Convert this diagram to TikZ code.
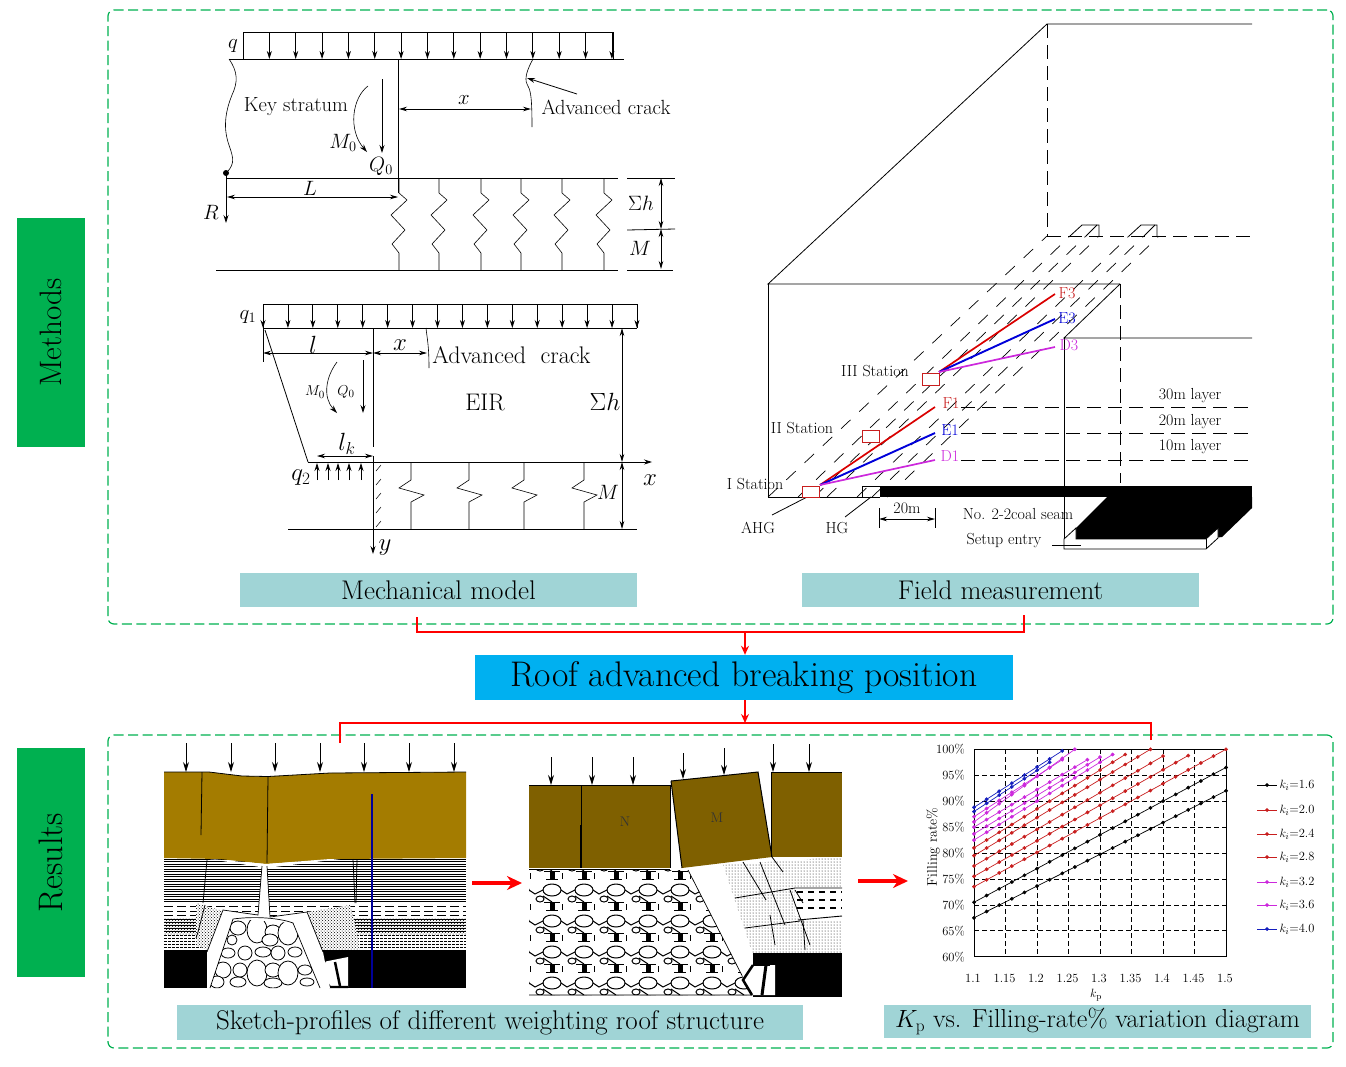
\documentclass[tikz,border=0pt]{standalone}
\usetikzlibrary{arrows.meta,patterns}
\definecolor{framegreen}{RGB}{0,176,80}
\definecolor{boxteal}{RGB}{160,212,214}
\definecolor{boxblue}{RGB}{0,176,240}
\definecolor{brownA}{RGB}{164,124,0}
\definecolor{brownB}{RGB}{127,96,0}
\definecolor{chartred}{RGB}{200,30,30}
\definecolor{chartpink}{RGB}{204,40,220}
\definecolor{chartblue}{RGB}{20,30,190}
\tikzset{
  frame/.style={draw=framegreen,line width=1.2pt,dash pattern=on 10pt off 4.5pt,rounded corners=6pt},
  sidebox/.style={fill=framegreen,minimum width=229pt,minimum height=68pt,inner sep=0pt,font=\fontsize{31}{33}\selectfont,rotate=90},
  capbox/.style={fill=boxteal,inner sep=0pt,font=\fontsize{27}{29}\selectfont},
  link/.style={draw=red,line width=1.4pt},
  linkarrow/.style={link,-{Stealth[length=9pt,width=8pt]}},
  fatarrow/.style={draw=red,line width=3.5pt,-{Stealth[length=15pt,width=14pt]}},
  force/.style={-{Stealth[length=8pt,width=5pt]},line width=0.8pt},
  press/.style={-{Stealth[length=10pt,width=6pt]},line width=1pt},
  dimline/.style={{Stealth[length=8pt,width=4.5pt]}-{Stealth[length=8pt,width=4.5pt]},line width=0.8pt},
  lab/.style={inner sep=0pt,font=\fontsize{20.5}{22}\selectfont},
  labbig/.style={inner sep=0pt,font=\fontsize{24}{26}\selectfont},
  lay/.style={inner sep=0pt,font=\fontsize{16}{18}\selectfont},
  tick/.style={inner sep=0pt,font=\fontsize{12.5}{14}\selectfont},
  diag/.style={line width=0.7pt,dash pattern=on 13pt off 12pt},
  boxdash/.style={line width=0.8pt,dash pattern=on 14pt off 7pt},
  grid/.style={line width=0.7pt,dash pattern=on 5pt off 3pt},
  rock/.style={line width=0.8pt,fill=white},
  dat/.style={line width=0.7pt},
  dot/.style={line width=0.4pt,fill=white}
}
\begin{document}
\begin{tikzpicture}[x=1pt,y=-1pt]
    \useasboundingbox (0,0) rectangle (1346,1066);

    % Draw frames and side labels
    \node[frame,minimum width=1225pt,minimum height=614pt] (methods) at (720.5,317) {};
    \node[frame,minimum width=1225pt,minimum height=313pt] (results) at (720.5,891.5) {};
    \node[sidebox] (sideM) at (51,332.5) {Methods};
    \node[sidebox,font=\fontsize{34}{36}\selectfont] (sideR) at (51,862.5) {Results};

    % Draw captions
    \node[capbox,minimum width=397pt,minimum height=34pt] (model) at (438.5,590) {Mechanical model};
    \node[capbox,minimum width=397pt,minimum height=34pt] (field) at (1000.5,590) {Field measurement};
    \node[capbox,minimum width=626pt,minimum height=35pt] (sketch) at (490,1022.5) {Sketch-profiles of different weighting roof structure};
    \node[capbox,minimum width=427pt,minimum height=33pt,font=\fontsize{26}{28}\selectfont] (kpbox) at (1097.5,1021.5) {$K_{\mathrm{p}}$ vs. Filling-rate\% variation diagram};
    \node[fill=boxblue,inner sep=0pt,minimum width=538pt,minimum height=45pt,font=\fontsize{35.6}{38}\selectfont] (breaking) at (744,677.5) {Roof advanced breaking position};

    % Define and draw red connectors
    \coordinate (modelOut) at (417,617);
    \coordinate (fieldOut) at (1024,615);
    \coordinate (joinTop) at (745,632);
    \coordinate (joinBot) at (745,723);
    \coordinate (sketchIn) at (340,743);
    \coordinate (chartIn) at (1151,740);
    \draw[link] (modelOut) |- (joinTop);
    \draw[link] (fieldOut) |- (joinTop);
    \draw[linkarrow] (joinTop) -- (breaking.north -| joinTop);
    \draw[linkarrow] (breaking.south -| joinTop) -- (joinBot);
    \draw[link] (sketchIn) |- (joinBot);
    \draw[link] (chartIn) |- (joinBot);
    \coordinate (fatA) at (472,883);
    \coordinate (fatB) at (522,883);
    \coordinate (fatC) at (858,881);
    \coordinate (fatD) at (908,881);
    \draw[fatarrow] (fatA) -- (fatB);
    \draw[fatarrow] (fatC) -- (fatD);

    % Draw upper mechanical model
    \draw[line width=0.8pt] (243,59) -- (243,32) -- (613,32) -- (613,59);
    \draw[line width=0.8pt] (229,59) -- (624,59);
    \foreach \i in {1,...,14} \draw[force] (243+26.35*\i,32) -- (243+26.35*\i,59);
    \draw[line width=0.6pt] (229,59) .. controls (238,72) and (238,82) .. (232,95) .. controls (226,110) and (223,125) .. (228,142) .. controls (232,155) and (237,163) .. (226,173);
    \draw[line width=0.8pt] (398,59) -- (398,193);
    \draw[line width=0.8pt] (227,178) -- (618,178);
    \draw[line width=0.8pt] (627,178) -- (675,178);
    \draw[line width=0.8pt] (627,230) -- (675,229);
    \draw[line width=0.8pt] (216,270) -- (618,270);
    \draw[line width=0.8pt] (627,270) -- (673,270);
    \draw[dimline] (661,178) -- (661,229);
    \draw[dimline] (661,229) -- (661,269);
    \foreach \x in {399,439,481,521,562,604}
      \draw[line width=0.6pt] (\x,178) -- (\x,193) -- (\x+8,200) -- (\x-8,215) -- (\x+6,230) -- (\x-7,244) -- (\x,253) -- (\x,270);
    \draw[line width=0.6pt] (533,59) .. controls (528,68) and (524,78) .. (527,84) .. controls (530,90) and (532,92) .. (532,127);
    \draw[force] (577,94) -- (527,78);
    \draw[dimline] (399,109) -- (531,109);
    \draw[dimline] (227,197) -- (398,197);
    \draw[force,line width=0.6pt] (368,86) .. controls (352,98) and (348,130) .. (367,152);
    \draw[force] (382,79) -- (382,153);
    \draw[force] (226,173) -- (226,223);
    \fill (226,173) circle (3pt);
    \node[lab] (keyA) at (296,107) {Key stratum};
    \node[lab] (crackA) at (606,107) {Advanced crack};
    \node[lab] (qA) at (233,46) {$q$};
    \node[lab] (xA) at (464,100) {$x$};
    \node[lab] (mA) at (343,143) {$M_0$};
    \node[lab] (zA) at (381,166) {$Q_0$};
    \node[lab] (lA) at (310,188) {$L$};
    \node[lab] (rA) at (211,212) {$R$};
    \node[lab] (shA) at (641,203) {$\Sigma h$};
    \node[lab] (hA) at (640,248) {$M$};

    % Draw lower mechanical model
    \draw[line width=0.8pt] (263,328) -- (263,304) -- (637,304) -- (637,328);
    \draw[line width=0.8pt] (263,328) -- (637,328);
    \foreach \i in {0,...,15} \draw[force] (263+24.93*\i,304) -- (263+24.93*\i,328);
    \draw[line width=0.8pt] (263,328) -- (263,362);
    \draw[line width=0.8pt] (265,330) -- (308,462);
    \draw[force] (308,462) -- (652,462);
    \draw[line width=0.8pt] (288,529) -- (637,529);
    \draw[line width=0.8pt] (373,328) -- (373,447);
    \draw[force] (373,456) -- (373,554);
    \draw[dimline] (263,353) -- (373,353);
    \draw[dimline] (373,353) -- (427,353);
    \draw[line width=0.6pt] (426,328) .. controls (427,338) and (429,345) .. (429,368);
    \draw[force,line width=0.6pt] (337,362) .. controls (325,378) and (323,398) .. (337,413);
    \draw[force] (363,360) -- (363,413);
    \draw[dimline] (622,328) -- (622,462);
    \draw[dimline] (622,462) -- (622,529);
    \draw[dimline] (317,456) -- (373,456);
    \foreach \x in {317,328,338,349,361} \draw[force] (\x,480) -- (\x,463);
    \foreach \y in {468,482,496,510,524} \draw[line width=0.5pt] (376,\y+3) -- (381,\y-3);
    \foreach \x in {411,469,524,584}
      \draw[line width=0.6pt] (\x,462) -- (\x,480) -- (\x-12,488) -- (\x+13,495) -- (\x,502) -- (\x,529);
    \node[lab] (qB) at (248,317) {$q_1$};
    \node[labbig] (lB) at (313,345) {$l$};
    \node[labbig] (xB) at (400,345) {$x$};
    \node[labbig] (crackB) at (511.5,355) {Advanced\ \ crack};
    \node[inner sep=0pt,font=\fontsize{15}{16}\selectfont] (mB) at (315,392) {$M_0$};
    \node[inner sep=0pt,font=\fontsize{15}{16}\selectfont] (zB) at (346,392) {$Q_0$};
    \node[labbig] (eir) at (485,402) {EIR};
    \node[labbig] (shB) at (605,402) {$\Sigma h$};
    \node[labbig] (lkB) at (347,444) {$l_k$};
    \node[labbig] (qC) at (301,478) {$q_2$};
    \node[lab] (hB) at (608,492) {$M$};
    \node[labbig] (xC) at (650,480) {$x$};
    \node[labbig] (yC) at (385,548) {$y$};

    % Draw field measurement box
    \draw[line width=0.8pt] (1252,24) -- (1047,24) -- (768,284) -- (1120,284);
    \draw[line width=0.8pt] (768,284) -- (768,497) -- (880,497);
    \draw[boxdash] (1047,24) -- (1047,236);
    \draw[boxdash] (1047,236) -- (1252,236);
    \draw[line width=0.8pt] (1120,284) -- (1064,338) -- (1252,338);
    \draw[line width=0.8pt] (1064,338) -- (1064,549);
    \draw[boxdash] (1120,284) -- (1120,483);
    \foreach \a/\b in {768/1047,798/1070,814/1086,827/1099,857/1129,872/1144,887/1159}
      \draw[diag] (\a,497) -- (\b,236);
    \draw[line width=0.8pt] (1070,236) -- (1082,225) -- (1099,225) -- (1099,236);
    \draw[line width=0.8pt] (1086,236) -- (1097,225);
    \draw[line width=0.8pt] (1129,236) -- (1141,225) -- (1157,225) -- (1157,236);
    \draw[line width=0.8pt] (1144,236) -- (1155,225);
    \foreach \y in {407,433,460} \draw[boxdash] (961,\y) -- (1252,\y);
    % coal seam
    \fill (880,486) rectangle (1252,497);
    \fill (1107,497) -- (1252,497) -- (1252,508) -- (1222,537) -- (1206,539) -- (1076,539) -- (1076,528) -- cycle;
    \draw[line width=0.8pt,fill=white] (1064,549) -- (1064,539) -- (1076,528) -- (1076,539) -- (1206,539) -- (1218,528) -- (1218,538) -- (1206,549) -- cycle;
    \draw[line width=0.8pt] (1206,539) -- (1206,549);
    \draw[line width=0.8pt] (862,497) -- (862,486) -- (880,486);
    \draw[line width=0.8pt] (772,515) -- (811,495);
    \draw[line width=0.8pt] (845,517) -- (871,497);
    \draw[line width=0.8pt] (1052,545) -- (1081,545);
    \draw[line width=0.8pt] (879,508) -- (879,528);
    \draw[line width=0.8pt] (935,508) -- (935,528);
    \draw[dimline] (879,519) -- (935,519);
    % stations and measuring lines
    \draw[chartred,line width=1pt,fill=white] (802,486) rectangle (819,497);
    \draw[chartred,line width=1pt,fill=white] (862,430) rectangle (879,442);
    \draw[chartred,line width=1pt,fill=white] (922,373) rectangle (939,385);
    \draw[red!85!black,line width=1.7pt] (820,485) -- (935,407);
    \draw[blue!85!black,line width=1.9pt] (820,485) -- (935,433);
    \draw[chartpink,line width=1.7pt] (820,485) -- (935,460);
    \draw[red!85!black,line width=1.7pt] (939,372) -- (1055,294);
    \draw[blue!85!black,line width=1.9pt] (939,372) -- (1055,319);
    \draw[chartpink,line width=1.7pt] (939,372) -- (1055,347);
    \node[lay,text=chartred] (f3) at (1067,293) {F3};
    \node[lay,text=blue!85!black] (e3) at (1067,318) {E3};
    \node[lay,text=chartpink] (d3) at (1069,345) {D3};
    \node[lay,text=chartred] (f1) at (951,403) {F1};
    \node[lay,text=blue!85!black] (e1) at (950,430) {E1};
    \node[lay,text=chartpink] (d1) at (950,456) {D1};
    \node[lay] (st3) at (875,371) {III Station};
    \node[lay] (st2) at (802,428) {II Station};
    \node[lay] (st1) at (755,484) {I Station};
    \node[lay] (ahg) at (758,528) {AHG};
    \node[lay] (hg) at (837,528) {HG};
    \node[lay] (twenty) at (907,508) {20m};
    \node[lay] (seam) at (1018,514) {No. 2-2coal seam};
    \node[lay] (setup) at (1004,541) {Setup entry};
    \node[lay] (lay30) at (1190,396) {30m layer};
    \node[lay] (lay20) at (1190,422) {20m layer};
    \node[lay] (lay10) at (1190,447) {10m layer};

    % Draw first roof profile: strata
    \foreach \y in {859,861.5,...,903} \draw[line width=0.9pt] (164,\y) -- (466,\y);
    \foreach \y in {906,911,915} \draw[line width=0.9pt,dash pattern=on 9pt off 4pt] (164,\y) -- (466,\y);
    \fill[pattern=crosshatch dots,pattern color=black] (164,918) rectangle (466,934);
    \foreach \y in {919,922,925,928,931} \draw[line width=0.8pt] (164,\y) -- (466,\y);
    \foreach \y in {935,938,941,944,947} \draw[line width=0.8pt,dash pattern=on 3pt off 1pt] (164,\y) -- (466,\y);
    \fill[white] (196,903) -- (226,912) -- (207,950) -- (196,945) -- cycle;
    \fill[pattern=crosshatch dots,pattern color=black] (196,903) -- (226,912) -- (207,950) -- (196,945) -- cycle;
    \fill[white] (307,912) -- (350,905) -- (355,925) -- (360,950) -- (323,950) -- cycle;
    \fill[pattern=crosshatch dots,pattern color=black] (307,912) -- (350,905) -- (355,925) -- (360,950) -- (323,950) -- cycle;
    \fill (164,950) rectangle (207,988);
    \fill (322,950) rectangle (466,988);
    \fill[white] (323,962) -- (348,957) -- (348,987) -- (330,987) -- (320,973) -- cycle;
    \draw[line width=2.2pt] (325,960) -- (320,973) -- (330,987) -- (348,987);
    \draw[line width=2.5pt] (335,962) -- (340,986);
    % brown roof
    \fill[brownA] (164,772) -- (209,772) -- (242,776) -- (268,776.5) -- (330,773) -- (466,772) -- (466,858) -- (335,859) -- (266,864) -- (220,859) -- (164,858) -- cycle;
    \draw[line width=0.8pt] (164,772) -- (209,772) -- (242,776) -- (268,776.5) -- (330,773) -- (466,772);
    \fill[white] (210,859) -- (266,864) -- (330,859) -- (340,859) -- (266,868) -- cycle;
    \draw[line width=0.8pt] (202,772) -- (201,835);
    \draw[line width=0.8pt] (268,777) -- (267,863);
    \draw[line width=0.8pt] (207,860) -- (203,903);
    \draw[line width=0.8pt] (353,859) -- (355,903);
    \draw[line width=0.8pt] (357,859) -- (356,903);
    \draw[line width=0.8pt] (205,905) -- (198,932) -- (196,938);
    % gob and rocks
    \fill[white] (262,866) -- (267,866) -- (270,917) -- (307,912) -- (323,952) -- (330,988) -- (207,988) -- (207,952) -- (223,910) -- (258,915) -- cycle;
    \draw[line width=0.7pt] (262,866) -- (258,915) -- (223,910) -- (207,952);
    \draw[line width=0.7pt] (267,866) -- (270,917) -- (307,912) -- (323,952);
    \begin{scope}
      \clip (233,919) -- (293,923) -- (320,988) -- (210,988) -- cycle;
      \foreach \x/\y/\a/\b in {238/928/8/7,257/930/10/13,273/932/8/7,288/933/10/12,232/940/5/5,270/940/8/6,245/953/7/7,228/953/7/5,263/952/8/5,278/953/7/7,295/952/7/5,240/970/7/7,257/973/10/13,273/970/8/7,288/973/10/12,305/970/7/5,223/970/8/8,217/982/7/6,238/982/8/5,273/983/9/5,307/982/7/4}
        \draw[rock] (\x,\y) ellipse (\a pt and \b pt);
    \end{scope}
    \draw[line width=0.7pt] (233,919) -- (210,988);
    \draw[line width=0.7pt] (233,919) .. controls (255,916) and (280,918) .. (293,923) -- (320,988);
    \draw[blue!60!black,line width=2pt] (372,794) -- (372,988);
    \foreach \x in {186,231,275,320,364,409,454} \draw[press] (\x,743) -- (\x,772);

    % Draw second roof profile: gob
    \begin{scope}
      \clip (529,870) -- (688,870) -- (752,995) -- (529,995) -- cycle;
      \foreach \py in {859,890,921,952,983} {
        \foreach \c in {0,...,7} {
          \pgfmathsetmacro{\px}{520+32*\c}
          \draw[line width=1pt] (\px,\py) ellipse (9pt and 6pt);
          \draw[line width=1pt] (\px+9,\py) -- (\px+15,\py+4) -- (\px+23,\py);
          \draw[line width=1pt] (\px-12,\py+9) ellipse (4pt and 3pt);
          \draw[line width=1pt] (\px-8,\py+12) -- (\px+8,\py+12);
          \draw[line width=1pt] (\px-6,\py+20) -- (\px+6,\py+20);
          \fill (\px-2.5,\py+12) rectangle (\px+2.5,\py+20);
          \draw[line width=1pt] (\px+10,\py+14) -- (\px+10,\py+20);
          \draw[line width=1pt] (\px-9,\py+6) -- (\px,\py+12);
        }
      }
    \end{scope}
    \draw[line width=0.7pt] (688,870) -- (752,995) -- (529,995);
    % right side strata
    \fill[pattern=dots,pattern color=black] (723,865) -- (842,857) -- (842,953) -- (753,955) -- cycle;
    \fill[white] (795,888) rectangle (842,916);
    \foreach \y in {892,900,908} \draw[line width=1.2pt,dash pattern=on 6pt off 5pt] (797,\y) -- (842,\y);
    \fill[white] (800,916) rectangle (842,921);
    \draw[line width=0.9pt] (798,920) -- (842,916);
    \draw[line width=0.8pt] (735,898) -- (795,888) -- (842,888);
    \draw[line width=0.8pt] (745,928) -- (800,921);
    \foreach \a/\b/\c/\d in {743/862/766/900,760/862/785/925,772/857/783/872,790/890/810/945,795/890/803/903,770/915/775/945,803/920/805/950}
      \draw[line width=0.8pt] (\a,\b) -- (\c,\d);
    % coal and support
    \fill (753,953) rectangle (842,997);
    \fill[white] (742,965) -- (775,965) -- (775,995) -- (752,995) -- (743,982) -- cycle;
    \draw[line width=2.5pt] (753,965) -- (743,980) -- (752,995);
    \draw[line width=3pt] (766,965) -- (762,995);
    \draw[line width=2pt] (753,965) -- (770,965);
    % brown blocks
    \fill[brownB] (529,785) rectangle (670,868);
    \fill[brownB] (671,781) -- (758,772) -- (772,857) -- (682,868) -- cycle;
    \fill[brownB] (771,772) rectangle (842,857);
    \draw[line width=1pt] (529,785) -- (670,785);
    \draw[line width=1pt] (671,781) -- (758,772) -- (772,857);
    \draw[line width=1pt] (771,772) -- (842,772);
    \draw[line width=1pt] (671,781) -- (682,868);
    \draw[line width=1pt] (670,785) -- (670,868);
    \draw[line width=1pt] (771,772) -- (771,857);
    \draw[line width=0.8pt] (581,785) -- (581,825);
    \draw[line width=1.4pt] (581,825) -- (581,868);
    \draw[line width=0.9pt] (529,869) -- (670,869);
    \node[inner sep=0pt,font=\fontsize{14}{15}\selectfont,text=black!80] (nLab) at (625,822) {N};
    \node[inner sep=0pt,font=\fontsize{14}{15}\selectfont,text=black!80] (mLab) at (717,818) {M};
    \foreach \x/\a/\b in {551/757/785,592/757/785,633/757/785,683/753/779,724/748/775,773/744/772,809/744/772}
      \draw[press] (\x,\a) -- (\x,\b);

    % Draw chart grid
    \foreach \i in {1,...,7} \draw[grid] (974,956.7-25.92*\i) -- (1226,956.7-25.92*\i);
    \foreach \i in {1,...,7} \draw[grid] (974+31.5*\i,749.3) -- (974+31.5*\i,956.7);
    \draw[line width=0.8pt] (974,749.3) rectangle (1226,956.7);
    \foreach \i/\t in {0/60,1/65,2/70,3/75,4/80,5/85,6/90,7/95,8/100}
      \node[tick,anchor=east] (ylab\i) at (965,956.7-25.92*\i) {\t\%};
    \foreach \i/\t in {0/1.1,1/1.15,2/1.2,3/1.25,4/1.3,5/1.35,6/1.4,7/1.45,8/1.5}
      \node[tick] (xlab\i) at (973+31.5*\i,978) {\t};
    \node[tick] (kpLab) at (1096,995) {$k_{\mathrm{p}}$};
    \node[tick,font=\fontsize{14}{15}\selectfont,rotate=90] (fillLab) at (933,847) {Filling rate\%};

    % Draw chart data
    \begin{scope}[shift={(974,956.7)},x=630pt,y=5.185pt]
      \foreach \ya/\xb/\yb/\col in {7.5/0.4/32/black,10.5/0.4/36.5/black,13.5/0.4/40/chartred,15.5/0.34/38.8/chartred,17.5/0.3/38.7/chartred,19.5/0.28/40/chartred,21/0.24/39/chartred,22.5/0.22/39/chartpink,23.7/0.2/38.5/chartpink,25/0.18/38/chartpink,26/0.16/40/chartpink,27/0.14/38/chartpink,28/0.12/37.5/chartblue,28.8/0.14/39.7/chartblue} {
        \draw[dat,\col] (0,\ya) -- (\xb,\yb);
        \pgfmathtruncatemacro{\n}{round(\xb/0.02)}
        \foreach \i in {0,...,\n} {
          \pgfmathsetmacro{\mx}{\i*0.02}
          \pgfmathsetmacro{\my}{\ya+(\yb-\ya)*\i/\n}
          \draw[dot,\col] (\mx,\my) circle (1.7pt);
        }
      }
    \end{scope}

    % Draw chart legend
    \foreach \y/\t/\col in {785/1.6/black,810/2.0/chartred,834/2.4/chartred,857/2.8/chartred,882/3.2/chartpink,905/3.6/chartpink,929/4.0/chartblue} {
      \draw[dat,\col] (1257,\y) -- (1277,\y);
      \draw[dot,\col] (1267,\y) circle (1.7pt);
      \node[tick] (key\y) at (1297,\y) {$k_i$=\t};
    }
\end{tikzpicture}
\end{document}
